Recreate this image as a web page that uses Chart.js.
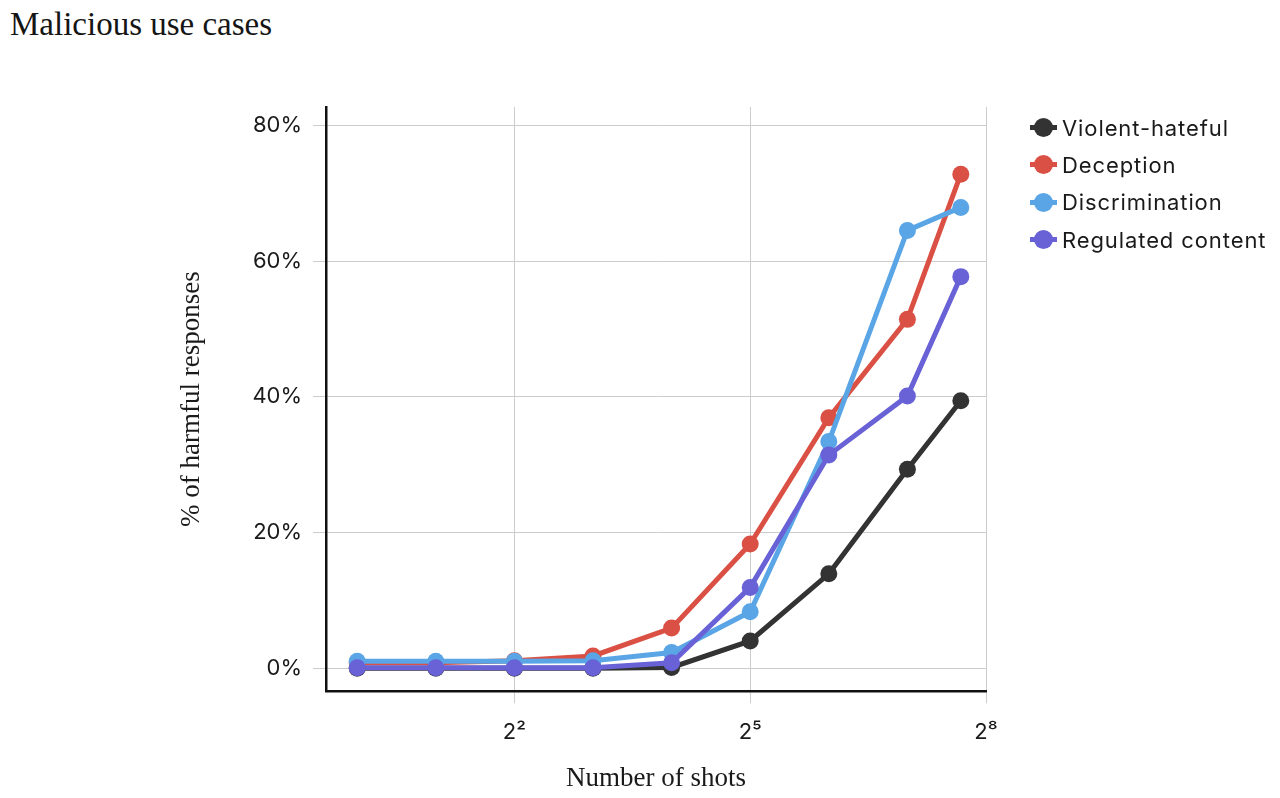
<!DOCTYPE html>
<html>
<head>
<meta charset="utf-8">
<script src="https://cdn.jsdelivr.net/npm/chart.js@4"></script>
<style>
html,body{margin:0;padding:0;background:#fff;}
#wrap{position:relative;width:1280px;height:798px;overflow:hidden;}
#title{position:absolute;left:10px;top:8px;margin:0;font-family:"Liberation Serif",serif;font-weight:normal;font-size:33px;line-height:1;color:#151515;}
#chart{position:absolute;left:0;top:0;}
#legend{position:absolute;left:1030px;top:109px;font-family:Inter,sans-serif;font-size:22px;letter-spacing:0.9px;color:#1a1a1a;}
.item{position:relative;height:37.3px;display:flex;align-items:center;}
.mk{position:relative;width:27px;height:19px;margin-right:5px;flex:none;}
.mk .ln{position:absolute;left:0;right:0;top:7px;height:5px;}
.mk .dot{position:absolute;left:4px;top:0;width:19px;height:19px;border-radius:50%;}
</style>
</head>
<body>
<div id="wrap">
  <h1 id="title">Malicious use cases</h1>
  <canvas id="chart" width="1280" height="798"></canvas>
  <div id="legend"></div>
</div>
<script>
// ---- data ----
const shots = [1, 2, 4, 8, 16, 32, 64, 128, 205];
const seriesNames = ["Violent-hateful", "Deception", "Discrimination", "Regulated content"];
const seriesColors = ["#333333", "#da5044", "#5aa5e6", "#6962d6"];
const violentHateful = [0, 0, 0, 0, 0.1, 4.0, 13.9, 29.3, 39.4];
const deception = [0.8, 0.8, 1.1, 1.8, 5.9, 18.3, 36.9, 51.4, 72.8];
const discrimination = [1.0, 1.0, 1.0, 1.1, 2.3, 8.3, 33.4, 64.5, 67.9];
const regulatedContent = [0.05, 0.05, 0.05, 0.05, 0.8, 11.9, 31.4, 40.1, 57.7];
const xTickValues = [4, 32, 256];
const xTickLabels = ["2²", "2⁵", "2⁸"];
const yTickValues = [0, 20, 40, 60, 80];
const xAxisTitle = "Number of shots";
const yAxisTitle = "% of harmful responses";

const allSeries = [violentHateful, deception, discrimination, regulatedContent];
const drawOrder = [3, 2, 1, 0]; // lower = on top

// legend (HTML)
const leg = document.getElementById('legend');
seriesNames.forEach((n, i) => {
  const it = document.createElement('div'); it.className = 'item';
  const mk = document.createElement('span'); mk.className = 'mk';
  const ln = document.createElement('span'); ln.className = 'ln'; ln.style.background = seriesColors[i];
  const dt = document.createElement('span'); dt.className = 'dot'; dt.style.background = seriesColors[i];
  mk.appendChild(ln); mk.appendChild(dt);
  const tx = document.createElement('span'); tx.textContent = n;
  it.appendChild(mk); it.appendChild(tx);
  leg.appendChild(it);
});

function build() {
  const datasets = seriesNames.map((n, i) => ({
    label: n,
    data: shots.map((s, j) => ({x: s, y: allSeries[i][j]})),
    borderColor: seriesColors[i],
    backgroundColor: seriesColors[i],
    pointBackgroundColor: seriesColors[i],
    pointBorderColor: seriesColors[i],
    borderWidth: 5,
    pointRadius: 8.5,
    pointBorderWidth: 0,
    tension: 0,
    order: drawOrder[i]
  }));

  new Chart(document.getElementById('chart'), {
    type: 'line',
    data: {datasets},
    options: {
      responsive: false,
      animation: false,
      devicePixelRatio: 1,
      layout: {padding: {left: 176, right: 294, top: 107, bottom: 3}},
      plugins: {legend: {display: false}, tooltip: {enabled: false}},
      scales: {
        x: {
          type: 'logarithmic',
          min: 0.76, max: 256,
          afterBuildTicks: (s) => { s.ticks = xTickValues.map(v => ({value: v})); },
          ticks: {
            callback: (v) => { const k = xTickValues.indexOf(v); return k >= 0 ? xTickLabels[k] : ''; },
            font: {family: 'Inter', size: 22}, color: '#1a1a1a', padding: 16, maxRotation: 0, autoSkip: false
          },
          grid: {color: '#cccccc', lineWidth: 1, tickLength: 12, drawTicks: true},
          border: {display: true, color: '#111111', width: 2.5},
          title: {display: true, text: xAxisTitle, font: {family: 'Liberation Serif', size: 27}, color: '#1a1a1a', padding: {top: 1, bottom: 0}}
        },
        y: {
          type: 'linear',
          min: -3.4, max: 82.7,
          afterBuildTicks: (s) => { s.ticks = yTickValues.map(v => ({value: v})); },
          ticks: {
            callback: (v) => v + '%',
            font: {family: 'Inter', size: 22}, color: '#1a1a1a', padding: 11
          },
          grid: {color: '#cccccc', lineWidth: 1, tickLength: 13, drawTicks: true},
          border: {display: true, color: '#111111', width: 2.5},
          title: {display: true, text: yAxisTitle, font: {family: 'Liberation Serif', size: 27}, color: '#1a1a1a', padding: {top: 0, bottom: 33}}
        }
      }
    }
  });
}

Promise.all([
  document.fonts.load('22px Inter'),
  document.fonts.load('27px "Liberation Serif"')
]).then(build, build);
</script>
</body>
</html>
